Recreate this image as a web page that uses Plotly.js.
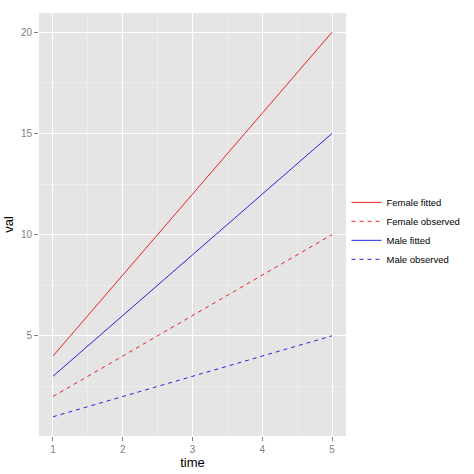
<!DOCTYPE html>
<html>
<head>
<meta charset="utf-8">
<script src="https://cdn.plot.ly/plotly-3.0.1.min.js"></script>
<style>html,body{margin:0;padding:0;background:#fff;}#chart{width:474px;height:474px;}</style>
</head>
<body>
<div id="chart"></div>
<script>
const time = [1, 2, 3, 4, 5];
const femaleFitted = [4, 8, 12, 16, 20];
const femaleObserved = [2, 4, 6, 8, 10];
const maleFitted = [3, 6, 9, 12, 15];
const maleObserved = [1, 2, 3, 4, 5];
const seriesNames = ["Female fitted", "Female observed", "Male fitted", "Male observed"];
const xTicks = [1, 2, 3, 4, 5];
const yTicks = [5, 10, 15, 20];

const red = "#e8231f";
const blue = "#2323e0";
const traces = [
  {x: time, y: femaleFitted, name: seriesNames[0], line: {color: red, width: 1}},
  {x: time, y: femaleObserved, name: seriesNames[1], line: {color: red, width: 1, dash: "4px,4px"}},
  {x: time, y: maleFitted, name: seriesNames[2], line: {color: blue, width: 1}},
  {x: time, y: maleObserved, name: seriesNames[3], line: {color: blue, width: 1, dash: "4px,4px"}}
].map(t => Object.assign({type: "scatter", mode: "lines"}, t));

const axisCommon = {
  showline: false, zeroline: false,
  ticks: "outside", ticklen: 4, tickwidth: 1, tickcolor: "#7f7f7f",
  tickfont: {family: "Liberation Sans, Arial, sans-serif", size: 10, color: "#7f7f7f"},
  showgrid: true, gridcolor: "#ffffff", gridwidth: 1,
  title: {font: {family: "Liberation Sans, Arial, sans-serif", size: 13, color: "#000"}}
};

const layout = {
  width: 474, height: 474,
  paper_bgcolor: "#ffffff", plot_bgcolor: "#e5e5e5",
  margin: {l: 39, r: 128, t: 13, b: 38},
  showlegend: true,
  legend: {
    xref: "container", yref: "container",
    x: 0.731, xanchor: "left", y: 0.513, yanchor: "middle",
    bgcolor: "rgba(0,0,0,0)", itemwidth: 30,
    font: {family: "Liberation Sans, Arial, sans-serif", size: 9.5, color: "#000"},
    tracegroupgap: 0
  },
  xaxis: Object.assign({}, axisCommon, {
    range: [0.8, 5.2], tickvals: xTicks, ticktext: xTicks.map(String),
    minor: {dtick: 0.5, tick0: 0.5, showgrid: true, gridcolor: "#f2f2f2", gridwidth: 0.6, ticks: ""},
    title: {text: "time", standoff: 1, font: axisCommon.title.font}
  }),
  yaxis: Object.assign({}, axisCommon, {
    range: [0.05, 20.95], tickvals: yTicks, ticktext: yTicks.map(String),
    minor: {dtick: 2.5, tick0: 0, showgrid: true, gridcolor: "#f2f2f2", gridwidth: 0.6, ticks: ""},
    title: {text: "val", standoff: 4, font: axisCommon.title.font}
  })
};

Plotly.newPlot("chart", traces, layout, {displayModeBar: false, staticPlot: true});
</script>
</body>
</html>
